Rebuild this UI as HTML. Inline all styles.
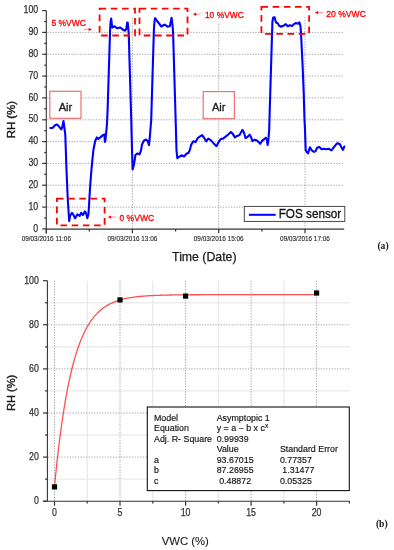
<!DOCTYPE html>
<html><head><meta charset="utf-8"><title>RH vs VWC</title>
<style>
html,body{margin:0;padding:0;background:#fff;width:394px;height:550px;overflow:hidden}
svg{display:block}
text{font-family:"Liberation Sans",Arial,sans-serif}
.tk{font-size:10.1px;fill:#333;stroke:#333;stroke-width:.25px}
.tk2{font-size:10.1px;fill:#333;stroke:#333;stroke-width:.25px}
.tx{font-size:6.4px;fill:#222;stroke:#222;stroke-width:.1px}
.lbl{font-size:12px;fill:#1a1a1a;stroke:#1a1a1a;stroke-width:.25px}
.lbl3{font-size:11.7px;fill:#1a1a1a;stroke:#1a1a1a;stroke-width:.1px}
.lbl2{font-size:11px;fill:#1a1a1a;stroke:#1a1a1a;stroke-width:.4px}
.air{font-size:10.5px;fill:#1a1a1a;stroke:#1a1a1a;stroke-width:.3px}
.vwc{font-size:9.5px;fill:#ff0000;stroke:#ff0000;stroke-width:.32px}
.leg{font-size:12.6px;fill:#111;stroke:#111;stroke-width:.3px}
.st{font-size:8.85px;fill:#111;stroke:#111;stroke-width:.15px}
.pan{font-family:"Liberation Serif",serif;font-weight:bold;font-size:9.6px;fill:#222;stroke:#222;stroke-width:.05px}
</style></head>
<body><svg width="394" height="550" viewBox="0 0 394 550">
<rect width="394" height="550" fill="#fff"/>
<line x1="47.3" y1="207.1" x2="343.7" y2="207.1" stroke="#a6a6a6" stroke-width="1" stroke-dasharray="1.3 1.4"/>
<line x1="47.3" y1="185.2" x2="343.7" y2="185.2" stroke="#a6a6a6" stroke-width="1" stroke-dasharray="1.3 1.4"/>
<line x1="47.3" y1="163.4" x2="343.7" y2="163.4" stroke="#a6a6a6" stroke-width="1" stroke-dasharray="1.3 1.4"/>
<line x1="47.3" y1="141.6" x2="343.7" y2="141.6" stroke="#a6a6a6" stroke-width="1" stroke-dasharray="1.3 1.4"/>
<line x1="47.3" y1="119.8" x2="343.7" y2="119.8" stroke="#a6a6a6" stroke-width="1" stroke-dasharray="1.3 1.4"/>
<line x1="47.3" y1="97.9" x2="343.7" y2="97.9" stroke="#a6a6a6" stroke-width="1" stroke-dasharray="1.3 1.4"/>
<line x1="47.3" y1="76.1" x2="343.7" y2="76.1" stroke="#a6a6a6" stroke-width="1" stroke-dasharray="1.3 1.4"/>
<line x1="47.3" y1="54.3" x2="343.7" y2="54.3" stroke="#a6a6a6" stroke-width="1" stroke-dasharray="1.3 1.4"/>
<line x1="47.3" y1="32.4" x2="343.7" y2="32.4" stroke="#a6a6a6" stroke-width="1" stroke-dasharray="1.3 1.4"/>
<line x1="132.4" y1="17.6" x2="132.4" y2="229.1" stroke="#a6a6a6" stroke-width="1" stroke-dasharray="1.3 1.4"/>
<line x1="218.7" y1="23.7" x2="218.7" y2="229.1" stroke="#a6a6a6" stroke-width="1" stroke-dasharray="1.3 1.4"/>
<line x1="305.0" y1="17.2" x2="305.0" y2="229.1" stroke="#a6a6a6" stroke-width="1" stroke-dasharray="1.3 1.4"/>
<path d="M50.3,128.0 L52.4,128.0 L55.4,125.0 L57.0,124.5 L59.0,126.5 L61.2,129.5 L62.4,126.8 L63.5,121.0 L64.3,127.0 L65.3,135.0 L66.5,170.0 L67.8,200.0 L69.2,221.0 L70.0,216.0 L72.0,212.8 L73.5,215.0 L75.1,218.2 L77.4,214.4 L79.7,215.9 L81.2,212.8 L83.0,215.0 L85.0,211.3 L86.3,214.0 L87.3,218.2 L88.5,214.0 L89.9,190.0 L91.0,175.0 L92.0,163.8 L93.4,150.0 L95.3,140.5 L96.9,137.4 L98.4,138.9 L100.7,137.1 L102.9,135.1 L104.5,134.4 L104.8,142.0 L105.5,140.0 L106.9,125.0 L107.6,110.0 L110.1,30.0 L110.6,22.0 L111.2,18.5 L111.8,24.0 L112.2,27.5 L114.6,26.3 L117.0,28.3 L120.3,27.5 L122.7,29.5 L125.1,30.7 L126.3,29.0 L127.2,22.6 L127.8,22.8 L128.3,28.0 L128.8,35.0 L129.5,60.0 L130.5,95.0 L131.3,122.0 L131.9,146.0 L132.6,169.5 L134.1,164.2 L135.4,155.0 L137.2,153.5 L139.5,154.3 L141.0,150.5 L142.0,144.4 L144.0,140.6 L145.6,139.5 L147.5,140.6 L149.0,145.1 L149.7,138.3 L150.1,133.7 L151.2,120.0 L153.9,30.0 L154.2,25.0 L154.8,19.0 L155.2,18.1 L157.5,21.5 L161.4,26.5 L163.0,25.5 L164.7,24.6 L167.5,26.7 L169.8,26.3 L171.6,17.8 L172.6,26.0 L173.1,33.0 L175.8,125.0 L176.5,150.5 L177.3,158.1 L179.6,156.5 L181.9,155.3 L184.1,156.5 L186.4,153.8 L188.7,152.7 L190.2,148.9 L191.0,145.1 L193.3,141.3 L195.6,142.1 L197.8,138.0 L200.1,136.4 L202.1,135.2 L203.9,137.5 L206.2,141.3 L208.2,138.6 L210.8,140.1 L213.8,143.6 L216.4,146.2 L218.4,142.5 L220.7,139.0 L223.0,138.6 L225.3,136.8 L227.5,135.2 L230.8,132.1 L232.6,133.6 L234.9,137.4 L237.2,135.9 L239.5,135.1 L242.5,129.8 L244.0,132.8 L245.6,138.2 L247.8,136.6 L249.7,134.7 L251.2,137.4 L252.4,141.2 L254.7,139.7 L257.0,140.5 L258.5,142.0 L260.3,143.8 L262.3,140.5 L264.3,139.2 L265.8,137.7 L266.9,139.7 L267.6,145.0 L268.4,139.7 L269.2,129.8 L269.5,118.0 L272.4,22.0 L273.2,17.5 L274.6,17.3 L275.3,20.0 L276.2,22.7 L277.7,23.2 L279.2,25.8 L281.2,26.8 L283.3,25.8 L285.8,24.2 L287.8,26.3 L289.9,25.1 L291.9,26.1 L293.9,24.2 L296.0,23.0 L298.0,23.7 L299.5,22.4 L300.5,26.3 L301.0,33.4 L302.6,65.5 L303.7,92.7 L304.5,120.0 L304.9,126.8 L305.4,142.0 L305.7,150.4 L308.0,153.4 L309.9,147.3 L311.8,150.4 L314.0,151.9 L315.6,151.1 L317.1,147.8 L319.4,147.0 L321.6,149.3 L323.9,148.8 L326.2,149.3 L328.5,148.8 L331.5,150.4 L333.8,147.3 L336.1,144.3 L337.6,143.2 L339.9,144.3 L341.4,147.3 L343.0,149.9 L344.3,146.5" fill="none" stroke="#0000ff" stroke-width="2.1" stroke-linejoin="round" stroke-linecap="round"/>
<rect x="56.9" y="198.6" width="47.7" height="26.8" fill="none" stroke="#ff0000" stroke-width="1.8" stroke-dasharray="6.6 4.6"/>
<rect x="99.6" y="8.6" width="35.4" height="26.9" fill="none" stroke="#ff0000" stroke-width="1.8" stroke-dasharray="6.6 4.6"/>
<rect x="139.5" y="8.6" width="48.0" height="26.9" fill="none" stroke="#ff0000" stroke-width="1.8" stroke-dasharray="6.6 4.6"/>
<rect x="261.4" y="6.9" width="47.7" height="26.9" fill="none" stroke="#ff0000" stroke-width="1.8" stroke-dasharray="6.6 4.6"/>
<line x1="46.3" y1="10.6" x2="46.3" y2="233.4" stroke="#333" stroke-width="1.1"/>
<line x1="46.3" y1="229.1" x2="344.2" y2="229.1" stroke="#333" stroke-width="1.1"/>
<line x1="42.2" y1="228.9" x2="46.3" y2="228.9" stroke="#333" stroke-width="1.2"/>
<line x1="42.2" y1="207.1" x2="46.3" y2="207.1" stroke="#333" stroke-width="1.2"/>
<line x1="42.2" y1="185.2" x2="46.3" y2="185.2" stroke="#333" stroke-width="1.2"/>
<line x1="42.2" y1="163.4" x2="46.3" y2="163.4" stroke="#333" stroke-width="1.2"/>
<line x1="42.2" y1="141.6" x2="46.3" y2="141.6" stroke="#333" stroke-width="1.2"/>
<line x1="42.2" y1="119.8" x2="46.3" y2="119.8" stroke="#333" stroke-width="1.2"/>
<line x1="42.2" y1="97.9" x2="46.3" y2="97.9" stroke="#333" stroke-width="1.2"/>
<line x1="42.2" y1="76.1" x2="46.3" y2="76.1" stroke="#333" stroke-width="1.2"/>
<line x1="42.2" y1="54.3" x2="46.3" y2="54.3" stroke="#333" stroke-width="1.2"/>
<line x1="42.2" y1="32.4" x2="46.3" y2="32.4" stroke="#333" stroke-width="1.2"/>
<line x1="42.2" y1="10.6" x2="46.3" y2="10.6" stroke="#333" stroke-width="1.2"/>
<line x1="44.2" y1="218.0" x2="46.3" y2="218.0" stroke="#333" stroke-width="1.2"/>
<line x1="44.2" y1="196.2" x2="46.3" y2="196.2" stroke="#333" stroke-width="1.2"/>
<line x1="44.2" y1="174.3" x2="46.3" y2="174.3" stroke="#333" stroke-width="1.2"/>
<line x1="44.2" y1="152.5" x2="46.3" y2="152.5" stroke="#333" stroke-width="1.2"/>
<line x1="44.2" y1="130.7" x2="46.3" y2="130.7" stroke="#333" stroke-width="1.2"/>
<line x1="44.2" y1="108.8" x2="46.3" y2="108.8" stroke="#333" stroke-width="1.2"/>
<line x1="44.2" y1="87.0" x2="46.3" y2="87.0" stroke="#333" stroke-width="1.2"/>
<line x1="44.2" y1="65.2" x2="46.3" y2="65.2" stroke="#333" stroke-width="1.2"/>
<line x1="44.2" y1="43.3" x2="46.3" y2="43.3" stroke="#333" stroke-width="1.2"/>
<line x1="44.2" y1="21.5" x2="46.3" y2="21.5" stroke="#333" stroke-width="1.2"/>
<line x1="46.3" y1="229.1" x2="46.3" y2="233.3" stroke="#333" stroke-width="1.2"/>
<line x1="132.4" y1="229.1" x2="132.4" y2="233.3" stroke="#333" stroke-width="1.2"/>
<line x1="218.7" y1="229.1" x2="218.7" y2="233.3" stroke="#333" stroke-width="1.2"/>
<line x1="305.0" y1="229.1" x2="305.0" y2="233.3" stroke="#333" stroke-width="1.2"/>
<line x1="89.3" y1="229.1" x2="89.3" y2="231.4" stroke="#333" stroke-width="1.2"/>
<line x1="175.6" y1="229.1" x2="175.6" y2="231.4" stroke="#333" stroke-width="1.2"/>
<line x1="261.9" y1="229.1" x2="261.9" y2="231.4" stroke="#333" stroke-width="1.2"/>
<text x="38.2" y="231.5" text-anchor="end" class="tk" textLength="4.9" lengthAdjust="spacingAndGlyphs">0</text>
<text x="38.2" y="209.7" text-anchor="end" class="tk" textLength="9.8" lengthAdjust="spacingAndGlyphs">10</text>
<text x="38.2" y="187.8" text-anchor="end" class="tk" textLength="9.8" lengthAdjust="spacingAndGlyphs">20</text>
<text x="38.2" y="166.0" text-anchor="end" class="tk" textLength="9.8" lengthAdjust="spacingAndGlyphs">30</text>
<text x="38.2" y="144.2" text-anchor="end" class="tk" textLength="9.8" lengthAdjust="spacingAndGlyphs">40</text>
<text x="38.2" y="122.4" text-anchor="end" class="tk" textLength="9.8" lengthAdjust="spacingAndGlyphs">50</text>
<text x="38.2" y="100.5" text-anchor="end" class="tk" textLength="9.8" lengthAdjust="spacingAndGlyphs">60</text>
<text x="38.2" y="78.7" text-anchor="end" class="tk" textLength="9.8" lengthAdjust="spacingAndGlyphs">70</text>
<text x="38.2" y="56.9" text-anchor="end" class="tk" textLength="9.8" lengthAdjust="spacingAndGlyphs">80</text>
<text x="38.2" y="35.0" text-anchor="end" class="tk" textLength="9.8" lengthAdjust="spacingAndGlyphs">90</text>
<text x="38.2" y="13.2" text-anchor="end" class="tk" textLength="14.7" lengthAdjust="spacingAndGlyphs">100</text>
<text x="46.3" y="240.6" text-anchor="middle" class="tx">09/03/2016 11:06</text>
<text x="132.4" y="240.6" text-anchor="middle" class="tx">09/03/2016 13:06</text>
<text x="218.7" y="240.6" text-anchor="middle" class="tx">09/03/2016 15:06</text>
<text x="305.0" y="240.6" text-anchor="middle" class="tx">09/03/2016 17:06</text>
<text x="172.1" y="260.5" class="lbl" textLength="64.4" lengthAdjust="spacingAndGlyphs">Time (Date)</text>
<text transform="translate(14.6,138.3) rotate(-90)" class="lbl2" textLength="37.3" lengthAdjust="spacingAndGlyphs">RH (%)</text>
<rect x="49.8" y="91.3" width="31.2" height="27.0" fill="#fff" stroke="#f07070" stroke-width="1.2"/>
<text x="58.7" y="110.6" class="air" textLength="13.6" lengthAdjust="spacingAndGlyphs">Air</text>
<rect x="203.2" y="91.6" width="31.2" height="27.1" fill="#fff" stroke="#f07070" stroke-width="1.2"/>
<text x="211.9" y="110.9" class="air" textLength="13.6" lengthAdjust="spacingAndGlyphs">Air</text>
<text x="51.4" y="25.9" class="vwc" textLength="34.4" lengthAdjust="spacingAndGlyphs">5 %VWC</text>
<text x="204.9" y="17.9" class="vwc" textLength="39.0" lengthAdjust="spacingAndGlyphs">10 %VWC</text>
<text x="326.3" y="16.6" class="vwc" textLength="39.6" lengthAdjust="spacingAndGlyphs">20 %VWC</text>
<text x="119.5" y="220.6" class="vwc" textLength="34.6" lengthAdjust="spacingAndGlyphs">0 %VWC</text>
<line x1="84.1" y1="29.4" x2="88.60000000000001" y2="29.4" stroke="#ff8080" stroke-width="0.9"/>
<path d="M91.9,29.4 L88.60000000000001,27.7 L88.60000000000001,31.099999999999998 Z" fill="#ff0000"/>
<line x1="200.2" y1="14.2" x2="196.20000000000002" y2="14.2" stroke="#ff8080" stroke-width="0.9"/>
<path d="M192.9,14.2 L196.20000000000002,12.5 L196.20000000000002,15.899999999999999 Z" fill="#ff0000"/>
<line x1="322.9" y1="12.6" x2="318.1" y2="12.6" stroke="#ff8080" stroke-width="0.9"/>
<path d="M314.8,12.6 L318.1,10.9 L318.1,14.299999999999999 Z" fill="#ff0000"/>
<line x1="115.8" y1="217.1" x2="111.1" y2="217.1" stroke="#ff8080" stroke-width="0.9"/>
<path d="M107.8,217.1 L111.1,215.4 L111.1,218.79999999999998 Z" fill="#ff0000"/>
<rect x="244.3" y="206.4" width="100.5" height="15.0" fill="#fff" stroke="#333" stroke-width="0.9"/>
<line x1="248.9" y1="214.8" x2="275.7" y2="214.8" stroke="#0000ff" stroke-width="2"/>
<text x="278.7" y="218.4" class="leg" textLength="62.5" lengthAdjust="spacingAndGlyphs">FOS sensor</text>
<text x="377.4" y="249" class="pan">(a)</text>
<line x1="48.1" y1="479.1" x2="350" y2="479.1" stroke="#e4e4e4" stroke-width="1"/>
<line x1="48.1" y1="435.0" x2="350" y2="435.0" stroke="#e4e4e4" stroke-width="1"/>
<line x1="48.1" y1="390.9" x2="350" y2="390.9" stroke="#e4e4e4" stroke-width="1"/>
<line x1="48.1" y1="346.9" x2="350" y2="346.9" stroke="#e4e4e4" stroke-width="1"/>
<line x1="48.1" y1="302.8" x2="350" y2="302.8" stroke="#e4e4e4" stroke-width="1"/>
<line x1="87.2" y1="280.7" x2="87.2" y2="501.2" stroke="#e4e4e4" stroke-width="1"/>
<line x1="152.8" y1="280.7" x2="152.8" y2="501.2" stroke="#e4e4e4" stroke-width="1"/>
<line x1="218.3" y1="280.7" x2="218.3" y2="501.2" stroke="#e4e4e4" stroke-width="1"/>
<line x1="283.9" y1="280.7" x2="283.9" y2="501.2" stroke="#e4e4e4" stroke-width="1"/>
<line x1="48.1" y1="457.1" x2="350" y2="457.1" stroke="#a6a6a6" stroke-width="1" stroke-dasharray="1.3 1.4"/>
<line x1="48.1" y1="413.0" x2="350" y2="413.0" stroke="#a6a6a6" stroke-width="1" stroke-dasharray="1.3 1.4"/>
<line x1="48.1" y1="368.9" x2="350" y2="368.9" stroke="#a6a6a6" stroke-width="1" stroke-dasharray="1.3 1.4"/>
<line x1="48.1" y1="324.8" x2="350" y2="324.8" stroke="#a6a6a6" stroke-width="1" stroke-dasharray="1.3 1.4"/>
<line x1="54.5" y1="280.7" x2="54.5" y2="501.2" stroke="#a6a6a6" stroke-width="1" stroke-dasharray="1.3 1.4"/>
<line x1="120.0" y1="280.7" x2="120.0" y2="501.2" stroke="#a6a6a6" stroke-width="1" stroke-dasharray="1.3 1.4"/>
<line x1="185.6" y1="280.7" x2="185.6" y2="501.2" stroke="#a6a6a6" stroke-width="1" stroke-dasharray="1.3 1.4"/>
<line x1="251.1" y1="280.7" x2="251.1" y2="501.2" stroke="#a6a6a6" stroke-width="1" stroke-dasharray="1.3 1.4"/>
<line x1="316.6" y1="280.7" x2="316.6" y2="501.2" stroke="#a6a6a6" stroke-width="1" stroke-dasharray="1.3 1.4"/>
<path d="M54.45,487.09 L55.76,473.79 L57.07,461.41 L58.38,449.89 L59.69,439.17 L61.01,429.18 L62.32,419.89 L63.63,411.23 L64.94,403.18 L66.25,395.68 L67.56,388.70 L68.87,382.20 L70.18,376.15 L71.49,370.52 L72.80,365.28 L74.12,360.40 L75.43,355.86 L76.74,351.63 L78.05,347.69 L79.36,344.03 L80.67,340.62 L81.98,337.44 L83.29,334.49 L84.60,331.73 L85.91,329.17 L87.22,326.79 L88.54,324.57 L89.85,322.50 L91.16,320.58 L92.47,318.79 L93.78,317.12 L95.09,315.57 L96.40,314.12 L97.71,312.78 L99.02,311.53 L100.34,310.36 L101.65,309.28 L102.96,308.27 L104.27,307.33 L105.58,306.45 L106.89,305.64 L108.20,304.88 L109.51,304.17 L110.82,303.51 L112.13,302.90 L113.44,302.33 L114.76,301.80 L116.07,301.31 L117.38,300.85 L118.69,300.42 L120.00,300.02 L121.31,299.65 L122.62,299.31 L123.93,298.99 L125.24,298.69 L126.55,298.41 L127.87,298.15 L129.18,297.91 L130.49,297.68 L131.80,297.47 L133.11,297.28 L134.42,297.10 L135.73,296.93 L137.04,296.77 L138.35,296.63 L139.67,296.49 L140.98,296.36 L142.29,296.25 L143.60,296.14 L144.91,296.03 L146.22,295.94 L147.53,295.85 L148.84,295.77 L150.15,295.69 L151.46,295.62 L152.77,295.55 L154.09,295.49 L155.40,295.43 L156.71,295.38 L158.02,295.33 L159.33,295.28 L160.64,295.24 L161.95,295.20 L163.26,295.16 L164.57,295.13 L165.88,295.10 L167.20,295.06 L168.51,295.04 L169.82,295.01 L171.13,294.99 L172.44,294.96 L173.75,294.94 L175.06,294.92 L176.37,294.90 L177.68,294.89 L179.00,294.87 L180.31,294.86 L181.62,294.84 L182.93,294.83 L184.24,294.82 L185.55,294.81 L186.86,294.80 L188.17,294.79 L189.48,294.78 L190.79,294.77 L192.11,294.76 L193.42,294.75 L194.73,294.75 L196.04,294.74 L197.35,294.74 L198.66,294.73 L199.97,294.73 L201.28,294.72 L202.59,294.72 L203.90,294.71 L205.21,294.71 L206.53,294.70 L207.84,294.70 L209.15,294.70 L210.46,294.70 L211.77,294.69 L213.08,294.69 L214.39,294.69 L215.70,294.69 L217.01,294.68 L218.32,294.68 L219.64,294.68 L220.95,294.68 L222.26,294.68 L223.57,294.68 L224.88,294.67 L226.19,294.67 L227.50,294.67 L228.81,294.67 L230.12,294.67 L231.44,294.67 L232.75,294.67 L234.06,294.67 L235.37,294.67 L236.68,294.67 L237.99,294.67 L239.30,294.67 L240.61,294.66 L241.92,294.66 L243.23,294.66 L244.55,294.66 L245.86,294.66 L247.17,294.66 L248.48,294.66 L249.79,294.66 L251.10,294.66 L252.41,294.66 L253.72,294.66 L255.03,294.66 L256.34,294.66 L257.65,294.66 L258.97,294.66 L260.28,294.66 L261.59,294.66 L262.90,294.66 L264.21,294.66 L265.52,294.66 L266.83,294.66 L268.14,294.66 L269.45,294.66 L270.76,294.66 L272.08,294.66 L273.39,294.66 L274.70,294.66 L276.01,294.66 L277.32,294.66 L278.63,294.66 L279.94,294.66 L281.25,294.66 L282.56,294.66 L283.88,294.66 L285.19,294.66 L286.50,294.66 L287.81,294.66 L289.12,294.66 L290.43,294.66 L291.74,294.66 L293.05,294.66 L294.36,294.66 L295.67,294.66 L296.99,294.66 L298.30,294.66 L299.61,294.66 L300.92,294.66 L302.23,294.66 L303.54,294.66 L304.85,294.66 L306.16,294.66 L307.47,294.66 L308.78,294.66 L310.09,294.66 L311.41,294.66 L312.72,294.66 L314.03,294.66 L315.34,294.66 L316.65,294.66" fill="none" stroke="#ff5050" stroke-width="1.3"/>
<rect x="51.9" y="484.3" width="5.2" height="5.2" fill="#000"/>
<rect x="117.4" y="297.3" width="5.2" height="5.2" fill="#000"/>
<rect x="183.0" y="293.5" width="5.2" height="5.2" fill="#000"/>
<rect x="314.0" y="290.4" width="5.2" height="5.2" fill="#000"/>
<line x1="47.4" y1="280.7" x2="47.4" y2="501.2" stroke="#333" stroke-width="1.1"/>
<line x1="43" y1="501.2" x2="349.9" y2="501.2" stroke="#333" stroke-width="1.1"/>
<line x1="43" y1="501.2" x2="47.4" y2="501.2" stroke="#333" stroke-width="1.2"/>
<line x1="43" y1="457.1" x2="47.4" y2="457.1" stroke="#333" stroke-width="1.2"/>
<line x1="43" y1="413.0" x2="47.4" y2="413.0" stroke="#333" stroke-width="1.2"/>
<line x1="43" y1="368.9" x2="47.4" y2="368.9" stroke="#333" stroke-width="1.2"/>
<line x1="43" y1="324.8" x2="47.4" y2="324.8" stroke="#333" stroke-width="1.2"/>
<line x1="43" y1="280.7" x2="47.4" y2="280.7" stroke="#333" stroke-width="1.2"/>
<line x1="45" y1="479.1" x2="47.4" y2="479.1" stroke="#333" stroke-width="1.2"/>
<line x1="45" y1="435.0" x2="47.4" y2="435.0" stroke="#333" stroke-width="1.2"/>
<line x1="45" y1="390.9" x2="47.4" y2="390.9" stroke="#333" stroke-width="1.2"/>
<line x1="45" y1="346.9" x2="47.4" y2="346.9" stroke="#333" stroke-width="1.2"/>
<line x1="45" y1="302.8" x2="47.4" y2="302.8" stroke="#333" stroke-width="1.2"/>
<line x1="54.5" y1="501.2" x2="54.5" y2="505.8" stroke="#333" stroke-width="1.2"/>
<line x1="120.0" y1="501.2" x2="120.0" y2="505.8" stroke="#333" stroke-width="1.2"/>
<line x1="185.6" y1="501.2" x2="185.6" y2="505.8" stroke="#333" stroke-width="1.2"/>
<line x1="251.1" y1="501.2" x2="251.1" y2="505.8" stroke="#333" stroke-width="1.2"/>
<line x1="316.6" y1="501.2" x2="316.6" y2="505.8" stroke="#333" stroke-width="1.2"/>
<line x1="87.2" y1="501.2" x2="87.2" y2="503.6" stroke="#333" stroke-width="1.2"/>
<line x1="152.8" y1="501.2" x2="152.8" y2="503.6" stroke="#333" stroke-width="1.2"/>
<line x1="218.3" y1="501.2" x2="218.3" y2="503.6" stroke="#333" stroke-width="1.2"/>
<line x1="283.9" y1="501.2" x2="283.9" y2="503.6" stroke="#333" stroke-width="1.2"/>
<line x1="349.4" y1="501.2" x2="349.4" y2="503.6" stroke="#333" stroke-width="1.2"/>
<text x="38.9" y="504.2" text-anchor="end" class="tk2" textLength="4.9" lengthAdjust="spacingAndGlyphs">0</text>
<text x="38.9" y="460.1" text-anchor="end" class="tk2" textLength="9.8" lengthAdjust="spacingAndGlyphs">20</text>
<text x="38.9" y="416.0" text-anchor="end" class="tk2" textLength="9.8" lengthAdjust="spacingAndGlyphs">40</text>
<text x="38.9" y="371.9" text-anchor="end" class="tk2" textLength="9.8" lengthAdjust="spacingAndGlyphs">60</text>
<text x="38.9" y="327.8" text-anchor="end" class="tk2" textLength="9.8" lengthAdjust="spacingAndGlyphs">80</text>
<text x="38.9" y="283.7" text-anchor="end" class="tk2" textLength="14.7" lengthAdjust="spacingAndGlyphs">100</text>
<text x="54.5" y="516.0" text-anchor="middle" class="tk2" textLength="4.9" lengthAdjust="spacingAndGlyphs">0</text>
<text x="120.0" y="516.0" text-anchor="middle" class="tk2" textLength="4.9" lengthAdjust="spacingAndGlyphs">5</text>
<text x="185.6" y="516.0" text-anchor="middle" class="tk2" textLength="9.8" lengthAdjust="spacingAndGlyphs">10</text>
<text x="251.1" y="516.0" text-anchor="middle" class="tk2" textLength="9.8" lengthAdjust="spacingAndGlyphs">15</text>
<text x="316.6" y="516.0" text-anchor="middle" class="tk2" textLength="9.8" lengthAdjust="spacingAndGlyphs">20</text>
<text x="161.8" y="544.6" class="lbl3" textLength="47" lengthAdjust="spacingAndGlyphs">VWC (%)</text>
<text transform="translate(15.3,411.1) rotate(-90)" class="lbl2" textLength="36.3" lengthAdjust="spacingAndGlyphs">RH (%)</text>
<rect x="147.3" y="407.0" width="202" height="83.6" fill="#fff" stroke="#111" stroke-width="1.1"/>
<text x="154" y="420.9" class="st">Model</text>
<text x="216.7" y="420.9" class="st">Asymptopic 1</text>
<text x="154" y="431.3" class="st">Equation</text>
<text x="216.7" y="431.3" class="st">y = a − b x c<tspan dy="-3.3" font-size="6.6">x</tspan></text>
<text x="154" y="441.6" class="st">Adj. R- Square</text>
<text x="216.7" y="441.6" class="st">0.99939</text>
<text x="216.7" y="452.3" class="st">Value</text>
<text x="279.9" y="452.3" class="st">Standard Error</text>
<text x="154" y="462.8" class="st">a</text>
<text x="216.7" y="462.8" class="st">93.67015</text>
<text x="279.9" y="462.8" class="st">0.77357</text>
<text x="154" y="473.3" class="st">b</text>
<text x="216.7" y="473.3" class="st">87.26955</text>
<text x="279.9" y="473.3" class="st"> 1.31477</text>
<text x="154" y="483.7" class="st">c</text>
<text x="216.7" y="483.7" class="st"> 0.48872</text>
<text x="279.9" y="483.7" class="st">0.05325</text>
<text x="375.9" y="526.8" class="pan">(b)</text>
</svg></body></html>
